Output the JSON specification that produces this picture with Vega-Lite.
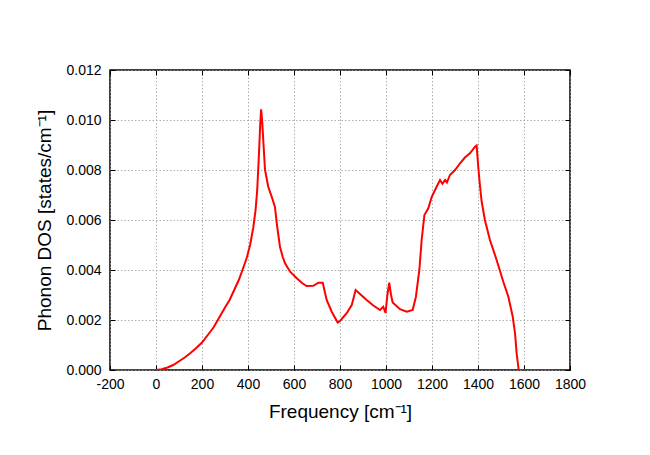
{
  "$schema": "https://vega.github.io/schema/vega-lite/v6.json",
  "autosize": "none",
  "padding": {"left": 110, "top": 70, "right": 80, "bottom": 85},
  "width": 460,
  "height": 300,
  "config": {
    "view": {"stroke": "black", "strokeWidth": 1.5},
    "font": "Liberation Sans",
    "axis": {
      "domain": false,
      "grid": true,
      "gridColor": "#999999",
      "gridDash": [1.5, 2],
      "gridWidth": 0.8,
      "gridOpacity": 1,
      "tickColor": "black",
      "tickSize": -5,
      "tickWidth": 1,
      "labelFont": "Liberation Sans",
      "labelFontSize": 14,
      "labelColor": "black",
      "titleFont": "Liberation Sans",
      "titleFontSize": 19,
      "titleFontWeight": "normal",
      "titleColor": "black"
    }
  },
  "data": {
    "values": [
      {"f": -180, "d": 0},
      {"f": 0, "d": 0},
      {"f": 25, "d": 0.00003},
      {"f": 50, "d": 0.0001},
      {"f": 75, "d": 0.0002},
      {"f": 100, "d": 0.00035},
      {"f": 125, "d": 0.0005},
      {"f": 150, "d": 0.00068},
      {"f": 175, "d": 0.00088},
      {"f": 200, "d": 0.0011},
      {"f": 225, "d": 0.0014},
      {"f": 250, "d": 0.0017},
      {"f": 275, "d": 0.0021},
      {"f": 300, "d": 0.0025},
      {"f": 320, "d": 0.0028},
      {"f": 340, "d": 0.0032},
      {"f": 360, "d": 0.0036},
      {"f": 380, "d": 0.0041},
      {"f": 395, "d": 0.0045},
      {"f": 409, "d": 0.005},
      {"f": 423, "d": 0.0057},
      {"f": 433, "d": 0.0064},
      {"f": 440, "d": 0.0072},
      {"f": 447, "d": 0.0085},
      {"f": 453, "d": 0.0098},
      {"f": 457, "d": 0.01043},
      {"f": 462, "d": 0.0099},
      {"f": 467, "d": 0.0091},
      {"f": 474, "d": 0.0080},
      {"f": 488, "d": 0.00733},
      {"f": 503, "d": 0.00693},
      {"f": 517, "d": 0.00653},
      {"f": 527, "d": 0.00573},
      {"f": 539, "d": 0.00493},
      {"f": 550, "d": 0.00455},
      {"f": 561, "d": 0.00427},
      {"f": 583, "d": 0.00393},
      {"f": 612, "d": 0.00367},
      {"f": 635, "d": 0.00348},
      {"f": 655, "d": 0.00336},
      {"f": 684, "d": 0.00337},
      {"f": 706, "d": 0.00349},
      {"f": 725, "d": 0.00349},
      {"f": 742, "d": 0.0028},
      {"f": 764, "d": 0.00233},
      {"f": 790, "d": 0.0019},
      {"f": 800, "d": 0.00196},
      {"f": 829, "d": 0.00227},
      {"f": 851, "d": 0.0026},
      {"f": 868, "d": 0.0032},
      {"f": 887, "d": 0.00304},
      {"f": 916, "d": 0.0028},
      {"f": 945, "d": 0.00258},
      {"f": 974, "d": 0.0024},
      {"f": 988, "d": 0.00253},
      {"f": 998, "d": 0.00228},
      {"f": 1006, "d": 0.0030},
      {"f": 1014, "d": 0.00349},
      {"f": 1022, "d": 0.0030},
      {"f": 1029, "d": 0.0027},
      {"f": 1061, "d": 0.00243},
      {"f": 1090, "d": 0.00233},
      {"f": 1116, "d": 0.0024},
      {"f": 1130, "d": 0.00293},
      {"f": 1145, "d": 0.004},
      {"f": 1155, "d": 0.0052},
      {"f": 1167, "d": 0.0062},
      {"f": 1184, "d": 0.00647},
      {"f": 1199, "d": 0.00693},
      {"f": 1220, "d": 0.00733},
      {"f": 1235, "d": 0.0076},
      {"f": 1245, "d": 0.00745},
      {"f": 1257, "d": 0.0076},
      {"f": 1265, "d": 0.0075},
      {"f": 1278, "d": 0.0078},
      {"f": 1300, "d": 0.008},
      {"f": 1322, "d": 0.00827},
      {"f": 1343, "d": 0.0085},
      {"f": 1365, "d": 0.00867},
      {"f": 1387, "d": 0.00893},
      {"f": 1394, "d": 0.00898},
      {"f": 1401, "d": 0.00813},
      {"f": 1409, "d": 0.00733},
      {"f": 1416, "d": 0.00673},
      {"f": 1430, "d": 0.006},
      {"f": 1452, "d": 0.0052},
      {"f": 1481, "d": 0.0044},
      {"f": 1510, "d": 0.00353},
      {"f": 1532, "d": 0.00293},
      {"f": 1551, "d": 0.00213},
      {"f": 1561, "d": 0.00147},
      {"f": 1568, "d": 0.00067},
      {"f": 1577, "d": 0},
      {"f": 1730, "d": 0}
    ]
  },
  "layer": [
    {
      "mark": {"type": "line", "color": "#ff0000", "strokeWidth": 2, "clip": true},
      "encoding": {
        "x": {"field": "f", "type": "quantitative", "scale": {"domain": [-200, 1800], "nice": false, "zero": false},
          "axis": {"title": "Frequency [cm⁻¹]", "values": [-200,0,200,400,600,800,1000,1200,1400,1600,1800], "labelExpr": "datum.value + ''", "labelPadding": 12, "titlePadding": 11, "labelFlush": false}},
        "y": {"field": "d", "type": "quantitative", "scale": {"domain": [0, 0.012], "nice": false},
          "axis": {"title": "Phonon DOS [states/cm⁻¹]", "values": [0,0.002,0.004,0.006,0.008,0.010,0.012], "format": ".3f", "labelPadding": 14, "titlePadding": 11}}
      }
    },
    {
      "mark": {"type": "line", "opacity": 0},
      "encoding": {
        "x": {"field": "f", "type": "quantitative", "scale": {"domain": [-200, 1800], "nice": false, "zero": false},
          "axis": {"orient": "top", "title": null, "labels": false, "grid": false, "values": [-200,0,200,400,600,800,1000,1200,1400,1600,1800]}},
        "y": {"field": "d", "type": "quantitative", "scale": {"domain": [0, 0.012], "nice": false},
          "axis": {"orient": "right", "title": null, "labels": false, "grid": false, "values": [0,0.002,0.004,0.006,0.008,0.010,0.012]}}
      }
    }
  ],
  "resolve": {"axis": {"x": "independent", "y": "independent"}}
}
